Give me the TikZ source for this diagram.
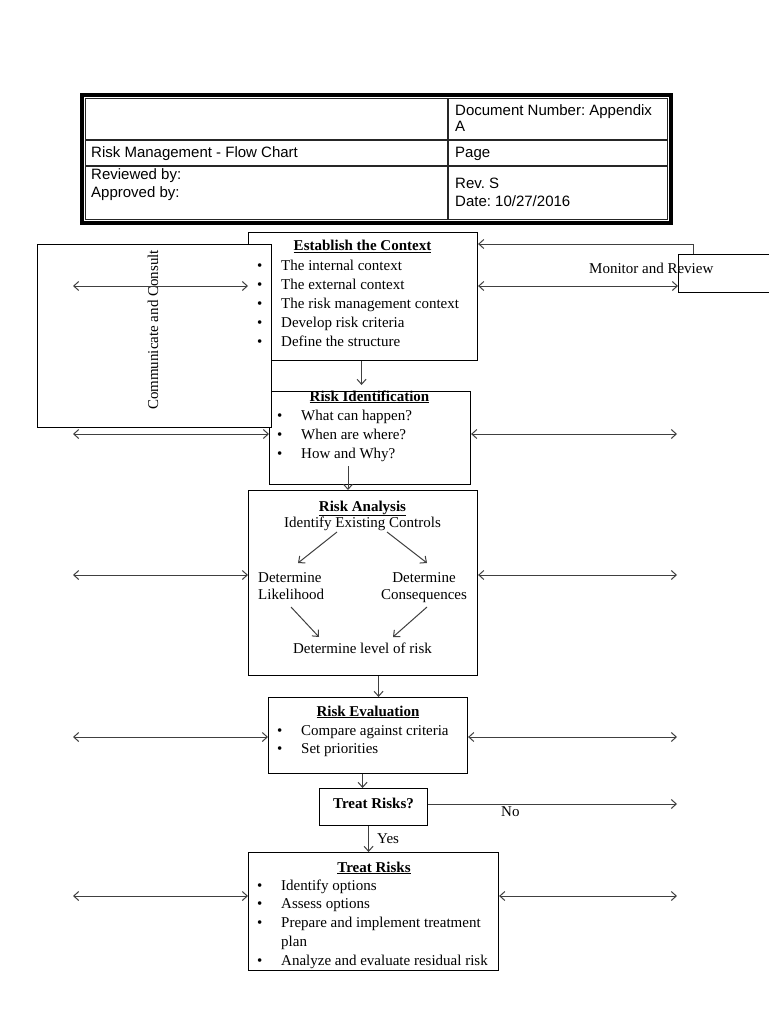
\documentclass[tikz,border=0pt]{standalone}
\usepackage{fontspec}
\setmainfont{Liberation Serif}
\newfontfamily\arialfont{Liberation Sans}
\usetikzlibrary{arrows.meta}
\newcommand{\blt}{\makebox[24pt][l]{\textbullet}}
\frenchspacing
\begin{document}
\begin{tikzpicture}[x=1pt,y=-1pt,
  frame/.style={draw=black, line width=1.1pt, inner sep=0pt, anchor=north west},
  arr/.style={draw=black!75, line width=1pt, -{Straight Barb[length=5pt,width=9pt]}},
  dbl/.style={draw=black!75, line width=1pt, {Straight Barb[length=5pt,width=9pt]}-{Straight Barb[length=5pt,width=9pt]}},
  ttl/.style={font=\fontsize{15}{19}\selectfont\bfseries, inner sep=0pt, anchor=base},
  txt/.style={font=\fontsize{15}{19}\selectfont, inner sep=0pt, align=left, anchor=base west},
  ctr/.style={font=\fontsize{15}{17}\selectfont, inner sep=0pt, align=center, anchor=base},
  hdr/.style={font=\arialfont\fontsize{15}{18}\selectfont, inner sep=0pt, align=left, anchor=base west},
  grid/.style={draw=black!85, line width=1.1pt}]
\useasboundingbox (0,0) rectangle (768,1024);
\fill[white] (0,0) rectangle (768,1024);

% ---------- header table ----------
\draw[line width=3.6pt] (81.7,95) rectangle (671,222.8);
\draw[grid, line width=0.9pt] (85,98.7) rectangle (667,219.3);
\draw[grid] (448,98.7) -- (448,219.3);
\draw[grid] (85,140) -- (667,140);
\draw[grid] (85,166) -- (667,166);
% multi-line nodes: base anchor = baseline of last line
\node[hdr, font=\arialfont\fontsize{15}{16}\selectfont] (docnum) at (455,132) {Document Number: Appendix\\A};
\node[hdr] (page) at (455,158) {Page};
\node[hdr] (rev) at (455,207) {Rev. S\\Date: 10/27/2016};
\node[hdr] (title) at (91,158) {Risk Management - Flow Chart};
\node[hdr] (revby) at (91,198) {Reviewed by:\\Approved by:};

% ---------- frames ----------
\node[frame, minimum width=229pt, minimum height=128pt] (ctx) at (248,232) {};
\node[frame, minimum width=201pt, minimum height=93pt] (rid) at (269,391) {};
\node[frame, fill=white, minimum width=234pt, minimum height=183pt] (comm) at (37,244) {};
\node[frame, minimum width=229pt, minimum height=185pt] (ra) at (248,490) {};
\node[frame, minimum width=199pt, minimum height=76pt] (re) at (268,697) {};
\node[frame, minimum width=108pt, minimum height=37pt, font=\fontsize{15}{19}\selectfont\bfseries, text height=10pt, text depth=7pt] (tq) at (319,788) {Treat Risks?};
\node[frame, minimum width=250pt, minimum height=118pt] (tr) at (248,852) {};
\node[frame, minimum width=92pt, minimum height=38pt] (mon) at (678,254) {};

% ---------- texts ----------
\node[txt, rotate=90, anchor=center] (commT) at (153,330) {Communicate and Consult};
\node[txt] (monT) at (589,273) {Monitor and Review};

\node[ttl] (ctxT) at (362.5,251) {\underline{Establish the Context}};
\node[txt] (ctxL) at (257,346) {\blt The internal context\\\blt The external context\\\blt The risk management context\\\blt Develop risk criteria\\\blt Define the structure};

\node[ttl] (ridT) at (369.5,401) {\underline{Risk Identification}};
\node[txt] (ridL) at (277,458) {\blt What can happen?\\\blt When are where?\\\blt How and Why?};

\node[ttl] (raT) at (362.5,511) {\underline{Risk Analysis}};
\node[ctr] (iec) at (362.5,527) {Identify Existing Controls};
\node[txt, font=\fontsize{15}{17}\selectfont] (lik) at (258,599) {Determine\\Likelihood};
\node[ctr] (con) at (424,599) {Determine\\Consequences};
\node[ctr] (lvl) at (362.5,653) {Determine level of risk};

\node[ttl] (reT) at (368,716) {\underline{Risk Evaluation}};
\node[txt, font=\fontsize{15}{18}\selectfont] (reL) at (277,753) {\blt Compare against criteria\\\blt Set priorities};

\node[ttl] (trT) at (374,872) {\underline{Treat Risks}};
\node[txt, font=\fontsize{15}{18.75}\selectfont] (trL) at (257,965) {\blt Identify options\\\blt Assess options\\\blt Prepare and implement treatment\\\hspace*{24pt}plan\\\blt Analyze and evaluate residual risk};

\node[txt] (no) at (501,816) {No};
\node[txt] (yes) at (377,843) {Yes};

% ---------- coordinates ----------
\coordinate (lc1) at (73,286);
\coordinate (lc2) at (73,434);
\coordinate (lc3) at (73,575);
\coordinate (lc4) at (73,737);
\coordinate (lc5) at (73,896);
\coordinate (rc1) at (678,286);
\coordinate (rc2) at (677,434);
\coordinate (rc3) at (677,575);
\coordinate (rc4) at (677,737);
\coordinate (rc5) at (677,804);
\coordinate (rc6) at (677,896);
\coordinate (mtop) at (693,244);
\coordinate (rs) at (348,466);
\coordinate (a1s) at (337,532);
\coordinate (a1e) at (298,563);
\coordinate (a2s) at (387,532);
\coordinate (a2e) at (427,563);
\coordinate (a3s) at (291,607);
\coordinate (a3e) at (319,637);
\coordinate (a4s) at (427,607);
\coordinate (a4e) at (393,637);

% ---------- left connectors ----------
\draw[dbl] (lc1) -- (lc1 -| ctx.west);
\draw[dbl] (lc2) -- (lc2 -| rid.west);
\draw[dbl] (lc3) -- (lc3 -| ra.west);
\draw[dbl] (lc4) -- (lc4 -| re.west);
\draw[dbl] (lc5) -- (lc5 -| tr.west);

% ---------- right connectors ----------
\draw[arr] ([xshift=15pt]mon.north west) -- (mtop) -- (mtop -| ctx.east);
\draw[dbl] (rc1 -| ctx.east) -- (rc1 -| mon.west);
\draw[dbl] (rc2 -| rid.east) -- (rc2);
\draw[dbl] (rc3 -| ra.east) -- (rc3);
\draw[dbl] (rc4 -| re.east) -- (rc4);
\draw[arr] (rc5 -| tq.east) -- (rc5);
\draw[dbl] (rc6 -| tr.east) -- (rc6);

% ---------- vertical flow ----------
\draw[arr, shorten >=6pt] ([xshift=-1.5pt]ctx.south) -- ([xshift=-1.5pt]ctx.south |- rid.north);
\draw[arr] (rs) -- (rs |- ra.north);
\draw[arr] ([xshift=15.5pt]ra.south) -- ([xshift=15.5pt]ra.south |- re.north);
\draw[arr] ([xshift=-5.5pt]re.south) -- ([xshift=-5.5pt]re.south |- tq.north);
\draw[arr] ([xshift=-5pt]tq.south) -- ([xshift=-5pt]tq.south |- tr.north);

% ---------- inside risk analysis ----------
\draw[arr] (a1s) -- (a1e);
\draw[arr] (a2s) -- (a2e);
\draw[arr] (a3s) -- (a3e);
\draw[arr] (a4s) -- (a4e);
\end{tikzpicture}
\end{document}
